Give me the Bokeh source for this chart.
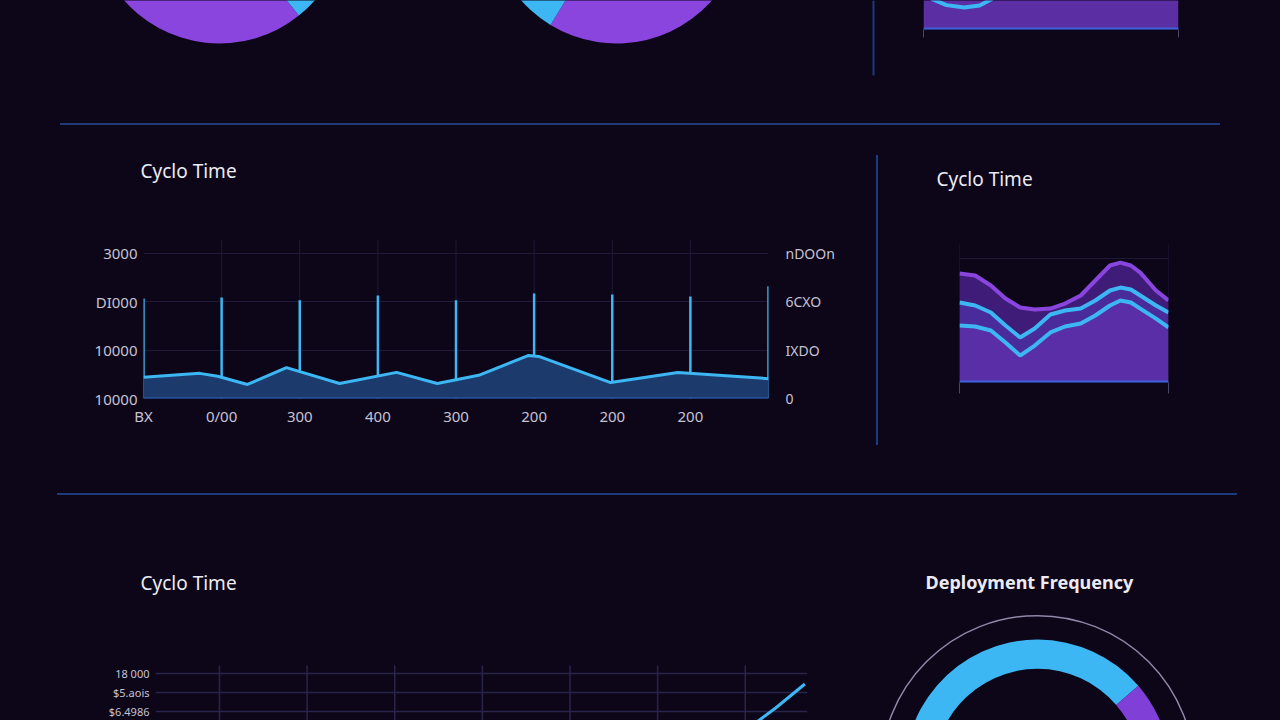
import math
from bokeh.plotting import figure
from bokeh.layouts import column, row
from bokeh.models import Spacer, Range1d, FixedTicker, LinearAxis, Span
from bokeh.embed import file_html
from bokeh.resources import INLINE

# ---------------- data ----------------
pie_a_shares = [0.75, 0.25]          # purple, cyan (top-left pie, cut off)
pie_b_shares = [0.75, 0.25]          # purple, cyan (top-middle pie, cut off)

top_area_x = [0, 2, 4, 6, 8, 10]
top_area_y = [14, 14, 14, 14, 14, 14]
top_cyan_x = [0.3, 0.9, 1.6, 2.2, 2.7]
top_cyan_y = [10.6, 8.4, 7.6, 8.3, 10.6]

cycle_x = [0, 0.72, 0.95, 1.33, 1.83, 2.51, 3.24, 3.76, 4.29, 4.93, 5.06, 5.98, 6.84, 8.0]
cycle_y = [0.44, 0.52, 0.46, 0.29, 0.64, 0.31, 0.54, 0.31, 0.48, 0.89, 0.87, 0.33, 0.54, 0.41]
spike_x = [0, 1, 2, 3, 4, 5, 6, 7, 8]
spike_top = [2.07, 2.09, 2.03, 2.13, 2.03, 2.17, 2.15, 2.11, 2.32]
cycle_x_labels = ["BX", "0/00", "300", "400", "300", "200", "200", "200"]
cycle_left_labels = ["10000", "10000", "DI000", "3000"]
cycle_right_labels = ["0", "IXDO", "6CXO", "nDOOn"]

stack_x = [0, 0.75, 1.5, 2.2, 2.9, 3.6, 4.35, 5.05, 5.8, 6.5, 7.2, 7.7, 8.2, 8.65, 9.4, 10]
stack_top = [78.4, 77, 69.8, 60.4, 54, 52.5, 53.2, 56.8, 62.6, 73.4, 84.2, 86.3, 84.2, 79.1, 66.2, 59]
stack_mid = [57.6, 55.4, 50.4, 41, 32.4, 38.8, 48.9, 51.8, 53.2, 59, 66.2, 68.3, 66.9, 62.6, 55.4, 50.4]
stack_low = [41, 40.3, 37.4, 28.8, 19.4, 26.6, 36, 40.3, 42.4, 48.2, 55.4, 59, 57.6, 53.2, 46, 39.6]

trend_x = [6.0, 6.35, 6.68]
trend_y = [0.0, 1.2, 2.45]
trend_ticks = [1, 2, 3]
trend_labels = ["$6.4986", "$5.aois", "18 000"]

deploy_shares = [0.82, 0.18]         # cyan, purple

# ---------------- style ----------------
BG = "#0d0619"
CYAN = "#3db7f3"
PURPLE = "#8a45df"
DIVC = "#1d3b7a"
TXT = "#ecebf4"
TICK = "#c6c2d4"
FONT = "Noto Sans"


def base(w, h, xr, yr, **kw):
    p = figure(width=w, height=h, x_range=xr, y_range=yr, output_backend="svg",
               toolbar_location=None, background_fill_color=BG, border_fill_color=BG,
               outline_line_color=None, **kw)
    return p


def wedge_angles(shares, start_deg):
    starts, ends = [], []
    a = math.radians(start_deg)
    for s in shares:
        starts.append(a)
        a += s * 2 * math.pi
        ends.append(a)
    return starts, ends


def style_title(p, text, size, bold, offset, standoff=10):
    p.title.text = text
    p.title.text_font = FONT
    p.title.text_font_size = size
    p.title.text_font_style = "bold" if bold else "normal"
    p.title.text_color = TXT
    p.title.align = "left"
    p.title.vertical_align = "top"
    p.title.offset = offset
    p.title.standoff = standoff


def hide_grids(p):
    p.xgrid.visible = False
    p.ygrid.visible = False


def plain_axis(ax, size, standoff):
    ax.axis_line_color = None
    ax.major_tick_line_color = None
    ax.minor_tick_line_color = None
    ax.major_tick_out = 0
    ax.major_tick_in = 0
    ax.major_label_standoff = standoff
    ax.major_label_text_font = FONT
    ax.major_label_text_font_size = size
    ax.major_label_text_color = TICK


def vgrid(p, xs, y0, y1, color, width):
    """short vertical grid lines at the tick positions"""
    p.segment(x0=xs, y0=[y0] * len(xs), x1=xs, y1=[y1] * len(xs),
              line_color=color, line_width=width)


# ---------------- row A: cut-off pies + top-right area ----------------
a1 = base(880, 123, Range1d(0, 880), Range1d(0, 123), title=None,
          x_axis_location=None, y_axis_location=None, min_border=0)
hide_grids(a1)
s, e = wedge_angles(pie_a_shares, 308.7 - pie_a_shares[0] * 360)
a1.wedge(x=[219, 219], y=[207, 207], radius=127, start_angle=s, end_angle=e,
         fill_color=[PURPLE, CYAN], line_color=None)
s, e = wedge_angles(pie_b_shares, 238.7)
a1.wedge(x=[616, 616], y=[207, 207], radius=127, start_angle=s, end_angle=e,
         fill_color=[PURPLE, CYAN], line_color=None)
a1.segment(x0=[873], y0=[123], x1=[873], y1=[48], line_color=DIVC, line_width=2)

a2 = base(400, 123, Range1d(0, 10), Range1d(0, 10), title=None, y_axis_location=None,
          min_border_left=43, min_border_right=102, min_border_top=0, min_border_bottom=94)
hide_grids(a2)
a2.varea(x=top_area_x, y1=0, y2=top_area_y, fill_color="#5b2ea3")
a2.line(top_cyan_x, top_cyan_y, line_color=CYAN, line_width=4)
a2.add_layout(Span(location=0, dimension="width", line_color="#3d61d8", line_width=4))
a2.xaxis.ticker = FixedTicker(ticks=[0, 10])
a2.xaxis.axis_line_color = None
a2.xaxis.major_tick_out = 8
a2.xaxis.major_tick_in = 0
a2.xaxis.major_tick_line_color = "#4a4666"
a2.xaxis.minor_tick_line_color = None
a2.xaxis.major_label_text_color = None

# ---------------- row B left: cycle time with spikes ----------------
b1 = base(876, 368, Range1d(0, 8), Range1d(0, 4.303),
          min_border_left=143, min_border_right=108, min_border_top=65, min_border_bottom=95)
style_title(b1, "Cyclo Time", "19px", False, -3)
b1.xgrid.visible = False
b1.ygrid.ticker = FixedTicker(ticks=[1, 2, 3])
b1.ygrid.grid_line_color = "#1f1a38"
vgrid(b1, [1, 2, 3, 4, 5, 6, 7], 0, 3.27, "#1f1a38", 1)
b1.segment(x0=spike_x, y0=[0] * len(spike_x), x1=spike_x, y1=spike_top,
           line_color=CYAN, line_width=2.5)
b1.varea(x=cycle_x, y1=0, y2=cycle_y, fill_color="#1d3a6d")
b1.line(cycle_x, cycle_y, line_color=CYAN, line_width=3)
b1.add_layout(Span(location=0, dimension="width", line_color="#2f65c4", line_width=2))

b1.xaxis.ticker = FixedTicker(ticks=list(range(len(cycle_x_labels))))
b1.xaxis.major_label_overrides = {i: t for i, t in enumerate(cycle_x_labels)}
b1.yaxis.ticker = FixedTicker(ticks=list(range(len(cycle_left_labels))))
b1.yaxis.major_label_overrides = {i: t for i, t in enumerate(cycle_left_labels)}
ry = LinearAxis(ticker=FixedTicker(ticks=list(range(len(cycle_right_labels)))),
                major_label_overrides={i: t for i, t in enumerate(cycle_right_labels)})
b1.add_layout(ry, "right")
plain_axis(b1.xaxis[0], "15px", 7)
plain_axis(b1.yaxis[0], "15px", 6)
plain_axis(ry, "14px", 17)

divB = column(Spacer(width=2, height=30),
              Spacer(width=2, height=290, styles={"background-color": DIVC}),
              Spacer(width=2, height=48))

# ---------------- row B right: stacked waves ----------------
b2 = base(402, 368, Range1d(0, 10), Range1d(0, 132.4), y_axis_location=None,
          min_border_left=81, min_border_right=112, min_border_top=73, min_border_bottom=111)
style_title(b2, "Cyclo Time", "19px", False, -23)
b2.xgrid.visible = False
b2.ygrid.ticker = FixedTicker(ticks=[89])
b2.ygrid.grid_line_color = "#1e1a36"
vgrid(b2, [0, 10], 0, 100, "#1e1a36", 1)
b2.varea(x=stack_x, y1=0, y2=stack_low, fill_color="#5a2ea6")
b2.varea(x=stack_x, y1=stack_low, y2=stack_mid, fill_color="#4a2b9b")
b2.varea(x=stack_x, y1=stack_mid, y2=stack_top, fill_color="#3f1c78")
b2.line(stack_x, stack_top, line_color=PURPLE, line_width=4)
b2.line(stack_x, stack_mid, line_color=CYAN, line_width=4)
b2.line(stack_x, stack_low, line_color=CYAN, line_width=4)
b2.add_layout(Span(location=0, dimension="width", line_color="#3b62d8", line_width=4))
b2.xaxis.ticker = FixedTicker(ticks=[0, 10])
b2.xaxis.axis_line_color = None
b2.xaxis.major_tick_out = 11
b2.xaxis.major_tick_in = 0
b2.xaxis.major_tick_line_color = "#4a4666"
b2.xaxis.minor_tick_line_color = None
b2.xaxis.major_label_text_color = None

# ---------------- row C left: trend grid ----------------
c1 = base(870, 225, Range1d(-0.73, 6.71), Range1d(0.53, 6.74), x_axis_location=None,
          min_border_left=155, min_border_right=63, min_border_top=107, min_border_bottom=0)
style_title(c1, "Cyclo Time", "19px", False, -15)
c1.xgrid.visible = False
c1.ygrid.ticker = FixedTicker(ticks=trend_ticks)
c1.ygrid.grid_line_color = "#29244a"
c1.ygrid.grid_line_width = 1.5
vgrid(c1, [0, 1, 2, 3, 4, 5, 6], 0.53, 3.42, "#29244a", 1.5)
c1.line(trend_x, trend_y, line_color=CYAN, line_width=3)
c1.yaxis.ticker = FixedTicker(ticks=trend_ticks)
c1.yaxis.major_label_overrides = {t: l for t, l in zip(trend_ticks, trend_labels)}
plain_axis(c1.yaxis[0], "11px", 6)

# ---------------- row C right: deployment frequency donut ----------------
c2 = base(410, 225, Range1d(-1.256, 1.827), Range1d(0.391, 1.293),
          x_axis_location=None, y_axis_location=None,
          min_border_left=0, min_border_right=0, min_border_top=105, min_border_bottom=0)
style_title(c2, "Deployment Frequency", "18px", True, 55)
hide_grids(c2)
c2.circle(x=[0], y=[0], radius=1.18, fill_color=None, line_color="#8f87a8", line_width=1.5)
s, e = wedge_angles(deploy_shares, 40.7)
c2.annular_wedge(x=[0, 0], y=[0, 0], inner_radius=0.78, outer_radius=1.0,
                 start_angle=s, end_angle=e, fill_color=[CYAN, "#8040d8"], line_color=None)

# ---------------- layout (each plot wrapped so frames are not aligned) ----------------
rowA = row(column(a1), column(a2))
divA = row(Spacer(width=60, height=2),
           Spacer(width=1160, height=2, styles={"background-color": DIVC}),
           Spacer(width=60, height=2))
rowB = row(column(b1), divB, column(b2))
divC = row(Spacer(width=57, height=2),
           Spacer(width=1180, height=2, styles={"background-color": DIVC}),
           Spacer(width=43, height=2))
rowC = row(column(c1), column(c2))
page = column(rowA, divA, rowB, divC, rowC)

html = file_html(page, INLINE, title="Engineering dashboard")
html = html.replace("</head>",
                    "<style>html,body{margin:0;padding:0;background:%s;overflow:hidden;}</style></head>" % BG, 1)
open("out.html", "w").write(html)
